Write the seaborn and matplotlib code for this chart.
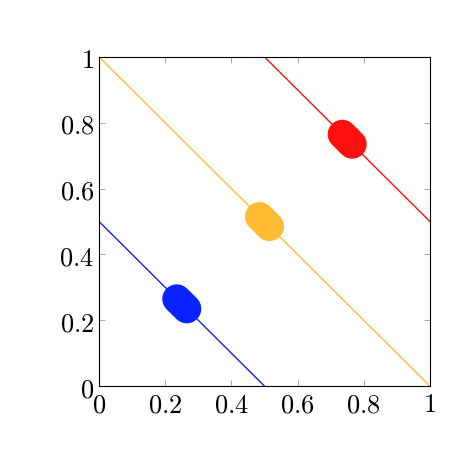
import matplotlib
matplotlib.use("Agg")
import matplotlib.pyplot as plt
import numpy as np
import pandas as pd
import seaborn as sns

sns.set_style("ticks")
plt.rcParams["mathtext.fontset"] = "cm"

# lines x + y = c
offsets = [0.5, 1.0, 1.5]
colors = ["#0a22ff", "#ffbb33", "#ff1010"]
# short thick segment along each line (x start, x end)
seg_x = [(0.235, 0.265), (0.485, 0.515), (0.735, 0.765)]
tick_vals = [0, 0.2, 0.4, 0.6, 0.8, 1]
tick_labels = ["0", "0.2", "0.4", "0.6", "0.8", "1"]

fig = plt.figure(figsize=(4.74, 4.56), dpi=100)
ax = fig.add_axes([0.209, 0.151, 0.698, 0.722])

for c, col, (x0, x1) in zip(offsets, colors, seg_x):
    xs = np.array([0.0, 1.0])
    df = pd.DataFrame({"x": xs, "y": c - xs})
    sns.lineplot(data=df, x="x", y="y", color=col, lw=1, ax=ax)
    seg = pd.DataFrame({"x": [x0, x1], "y": [c - x0, c - x1]})
    ax.plot(seg["x"], seg["y"], color=col, lw=21, solid_capstyle="round")

ax.set_xlim(0, 1)
ax.set_ylim(0, 1)
ax.set_xlabel("")
ax.set_ylabel("")
ax.set_xticks(tick_vals)
ax.set_yticks(tick_vals)
ax.set_xticklabels([f"${t}$" for t in tick_labels], fontsize=19)
ax.set_yticklabels([f"${t}$" for t in tick_labels], fontsize=19)
ax.tick_params(direction="in", top=True, right=True, length=4, width=0.6, colors="#999999", labelcolor="black")
for s in ax.spines.values():
    s.set_linewidth(0.8)
    s.set_color("black")

fig.savefig("out.png", dpi=100)
